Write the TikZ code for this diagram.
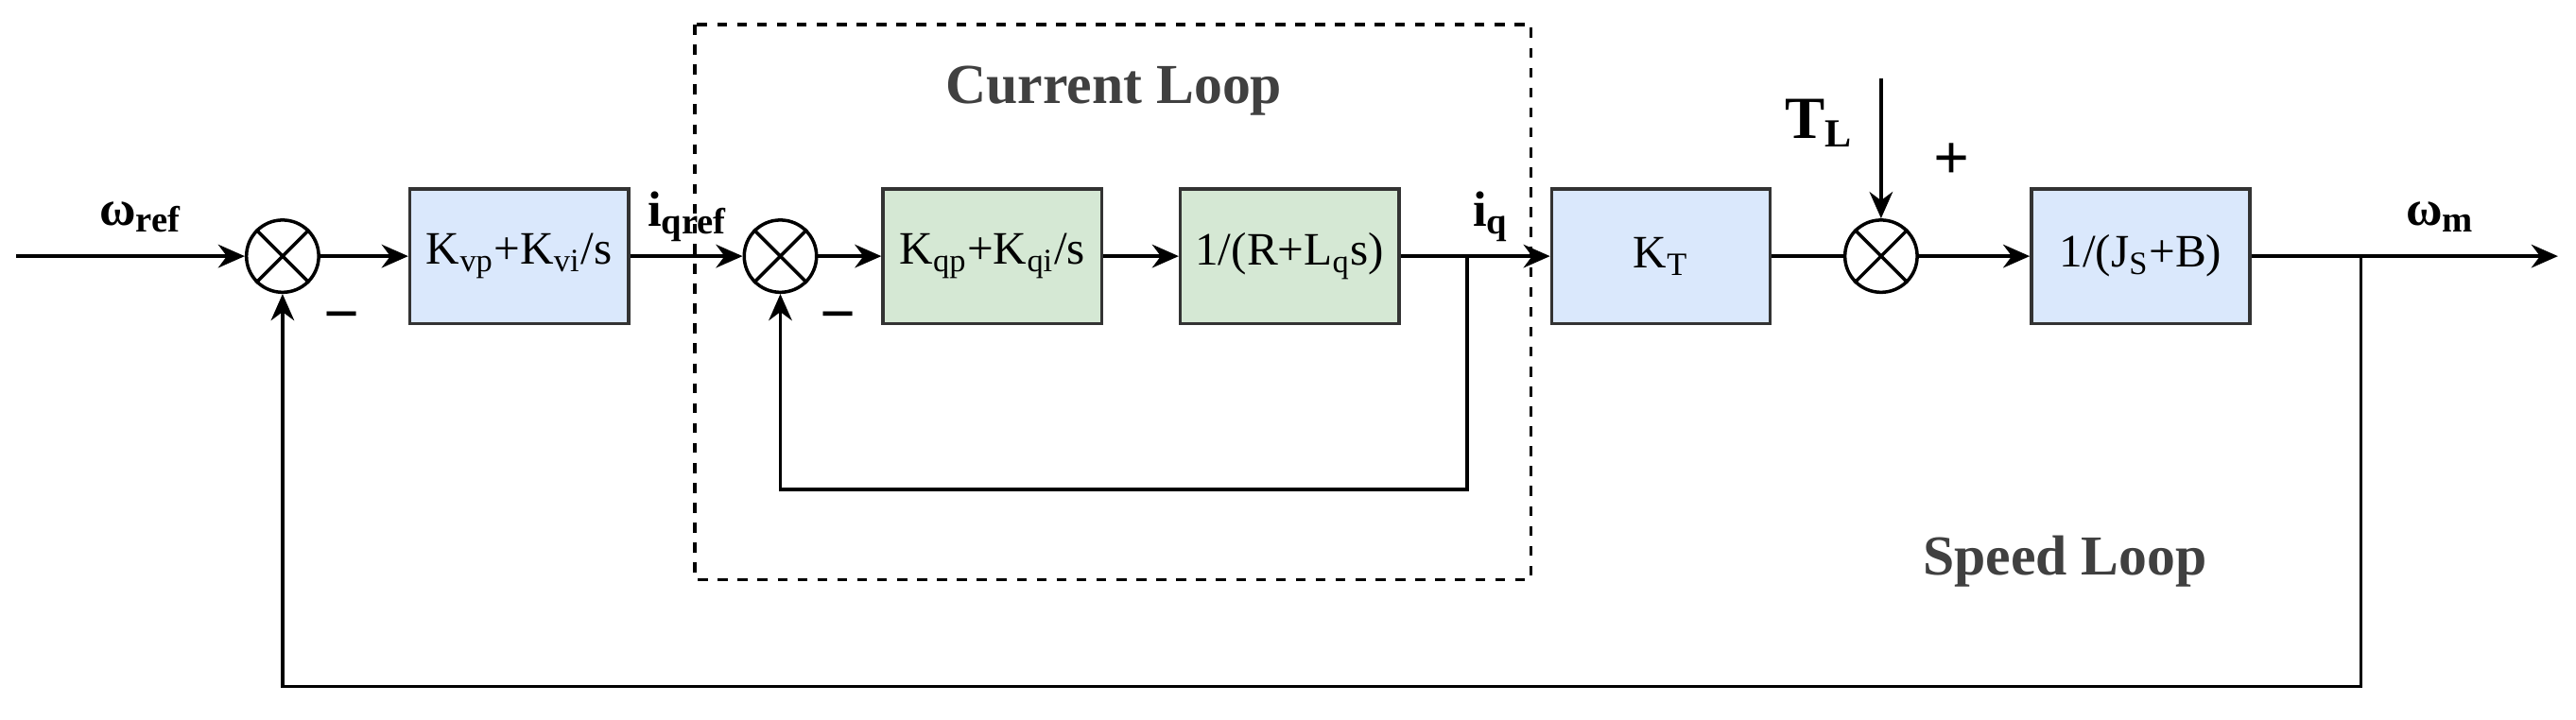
\documentclass[tikz,border=0pt]{standalone}
\usepackage{fontspec}
\setmainfont{Liberation Serif}
\usetikzlibrary{arrows.meta}
\begin{document}
\begin{tikzpicture}[x=0.01738cm,y=-0.01738cm,
  blk/.style={draw=black!80,line width=1pt,inner sep=0pt,font=\fontsize{14}{16}\selectfont},
  blue/.style={blk,fill={rgb,255:red,218;green,232;blue,252}},
  green/.style={blk,fill={rgb,255:red,213;green,232;blue,212}},
  ar/.style={-{Stealth[length=8pt,width=7pt]},line width=1pt},
  ln/.style={line width=1pt},
  lab/.style={font=\bfseries\fontsize{15}{17}\selectfont},
  big/.style={font=\bfseries\fontsize{17}{20}\selectfont,text=black!75}]
\useasboundingbox (0,0) rectangle (1568,437.9);
\def\bx#1#2#3#4{\node[#1,minimum width=133*0.01738cm,minimum height=82*0.01738cm] (#2) at (#3,156) {#4};}
\bx{blue}{b1}{316}{K$_{\mathrm{vp}}$+K$_{\mathrm{vi}}$/s}
\bx{green}{b2}{604}{K$_{\mathrm{qp}}$+K$_{\mathrm{qi}}$/s}
\bx{green}{b3}{785}{1/(R+L$_{\mathrm{q}}$s)}
\bx{blue}{b4}{1011}{K$_{\mathrm{T}}$}
\bx{blue}{b5}{1303}{1/(J$_{\mathrm{S}}$+B)}
\foreach \n/\x in {s1/172,s2/475,s3/1145}{
 \node[draw,circle,line width=1pt,minimum size=44*0.01738cm,inner sep=0pt] (\n) at (\x,156) {};
 \draw[line width=1pt] (\n.north west)--(\n.south east) (\n.north east)--(\n.south west);}
\draw[dashed,line width=1pt] (423,15) rectangle (932,353);
\coordinate (in) at (10,156);
\coordinate (out) at (1557,156);
\coordinate (iq) at (893,156);
\coordinate (wm) at (1437,156);
\coordinate (tl) at (1145,48);
\draw[ar] (in)--(s1);
\draw[ar] (s1)--(b1);
\draw[ar] (b1)--(s2);
\draw[ar] (s2)--(b2);
\draw[ar] (b2)--(b3);
\draw[ar] (b3)--(b4);
\draw[ln] (b4)--(s3);
\draw[ar] (s3)--(b5);
\draw[ar] (b5)--(out);
\draw[ar] (tl)--(s3);
\draw[ar] (iq)--(893,298)-|(s2);
\draw[ar] (wm)--(1437,418)-|(s1);
\node[lab] at (85,132) {ω\raisebox{-0.3ex}{\fontsize{11}{12}\selectfont ref}};
\node[lab] at (418,132) {i\raisebox{-0.3ex}{\fontsize{11}{12}\selectfont qref}};
\node[lab] at (907,132) {i\raisebox{-0.3ex}{\fontsize{11}{12}\selectfont q}};
\node[lab] at (1485,132) {ω\raisebox{-0.3ex}{\fontsize{11}{12}\selectfont m}};
\node[lab,font=\bfseries\fontsize{18}{20}\selectfont] at (1107,75) {T\raisebox{-0.3ex}{\fontsize{12}{13}\selectfont L}};
\node[lab,font=\bfseries\fontsize{19}{20}\selectfont] at (1188,98) {+};
\node[lab,font=\bfseries\fontsize{19}{20}\selectfont] at (208,197) {−};
\node[lab,font=\bfseries\fontsize{19}{20}\selectfont] at (510,197) {−};
\node[big] at (678,55) {Current Loop};
\node[big] at (1257,342) {Speed Loop};
\end{tikzpicture}
\end{document}
